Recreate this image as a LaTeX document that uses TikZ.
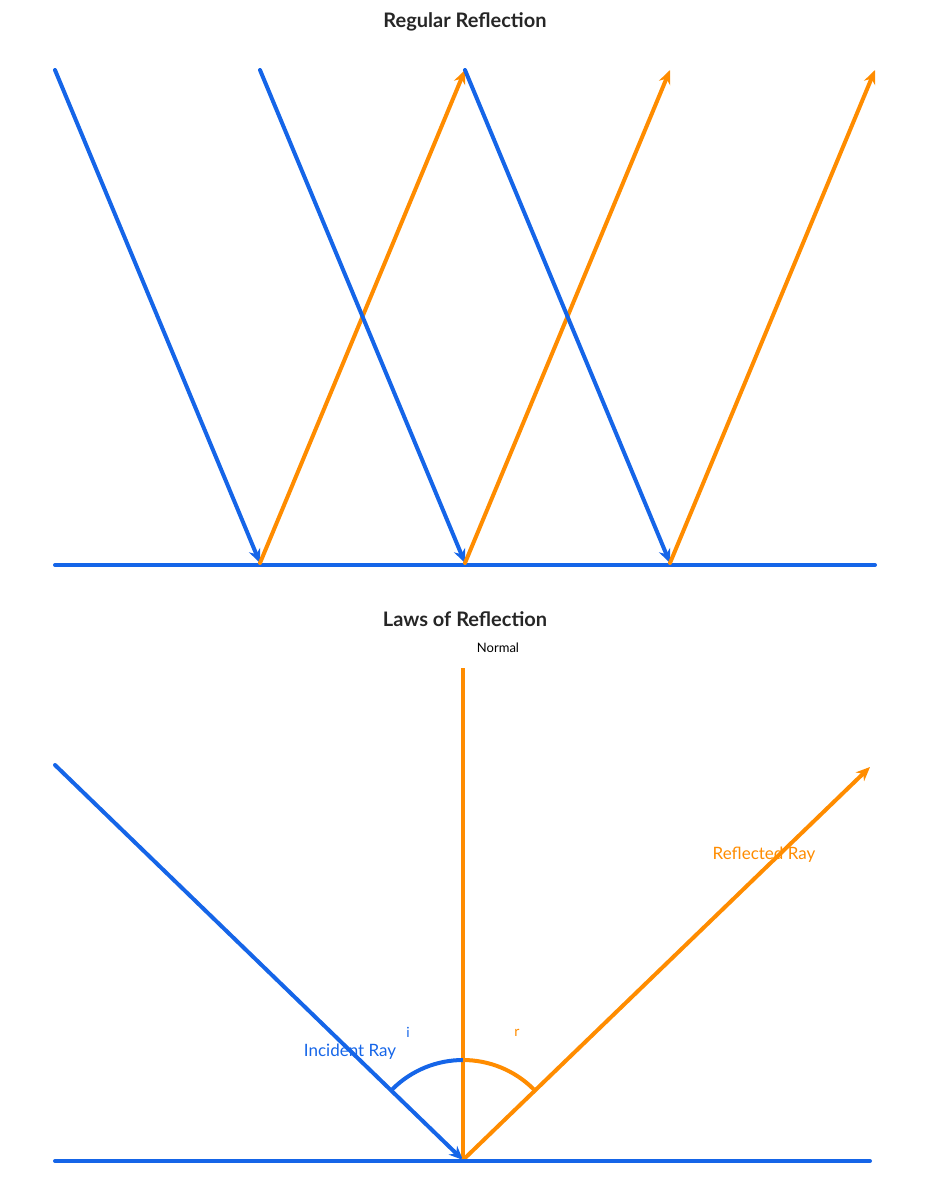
\documentclass[tikz,border=0pt]{standalone}
\usepackage{fontspec}
\setmainfont{Lato}
\usetikzlibrary{arrows.meta}
\definecolor{rayblue}{HTML}{1565E8}
\definecolor{rayorange}{HTML}{FF8C00}
\tikzset{
  ray/.style={line width=4pt,line cap=round,-{Stealth[length=14pt,width=12pt]}},
  mirror/.style={line width=4pt,line cap=round,rayblue},
  title/.style={font=\bfseries\fontsize{20}{24}\selectfont,text=black!85},
  lbl/.style={font=\fontsize{17}{20}\selectfont}
}
\begin{document}
\begin{tikzpicture}[x=1pt,y=-1pt]
  \useasboundingbox (0,0) rectangle (930,1200);
  % regular reflection
  \node[title] at (465,22) (t1) {Regular Reflection};
  \coordinate (m1l) at (55,565);
  \coordinate (m1r) at (875,565);
  \draw[mirror] (m1l) -- (m1r);
  \foreach \x in {0,1,2}{
    \coordinate (src\x) at (55+205*\x,70);
    \coordinate (hit\x) at (260+205*\x,563);
    \coordinate (dst\x) at (465+205*\x,70);
    \draw[ray,rayblue] (src\x) -- (hit\x);
    \draw[ray,rayorange] (hit\x) -- (dst\x);
  }
  % laws of reflection
  \node[title] at (465,619) (t2) {Laws of Reflection};
  \coordinate (o) at (463,1160);
  \coordinate (ntop) at (463,668);
  \coordinate (inc) at (55,765);
  \coordinate (refl) at (870,767);
  \draw[line width=4pt,rayorange] (ntop) -- (o);
  \node[font=\fontsize{13}{15}\selectfont] at (498,648) (normal) {Normal};
  \draw[ray,rayblue] (inc) -- (o);
  \draw[ray,rayorange] (o) -- (refl);
  \draw[mirror] (55,1161) -- (870,1161);
  \draw[line width=4pt,rayblue] ([shift={(-135:100)}]o) arc[start angle=-135,end angle=-90,radius=100];
  \draw[line width=4pt,rayorange] ([shift={(-90:100)}]o) arc[start angle=-90,end angle=-45,radius=100];
  \node[lbl,rayblue,font=\fontsize{14}{16}\selectfont] at (408,1032) (ai) {i};
  \node[lbl,rayorange,font=\fontsize{14}{16}\selectfont] at (517,1033) (ar) {r};
  \node[lbl,rayblue] at (350,1052) (incl) {Incident Ray};
  \node[lbl,rayorange] at (764,855) (refll) {Reflected Ray};
\end{tikzpicture}
\end{document}
